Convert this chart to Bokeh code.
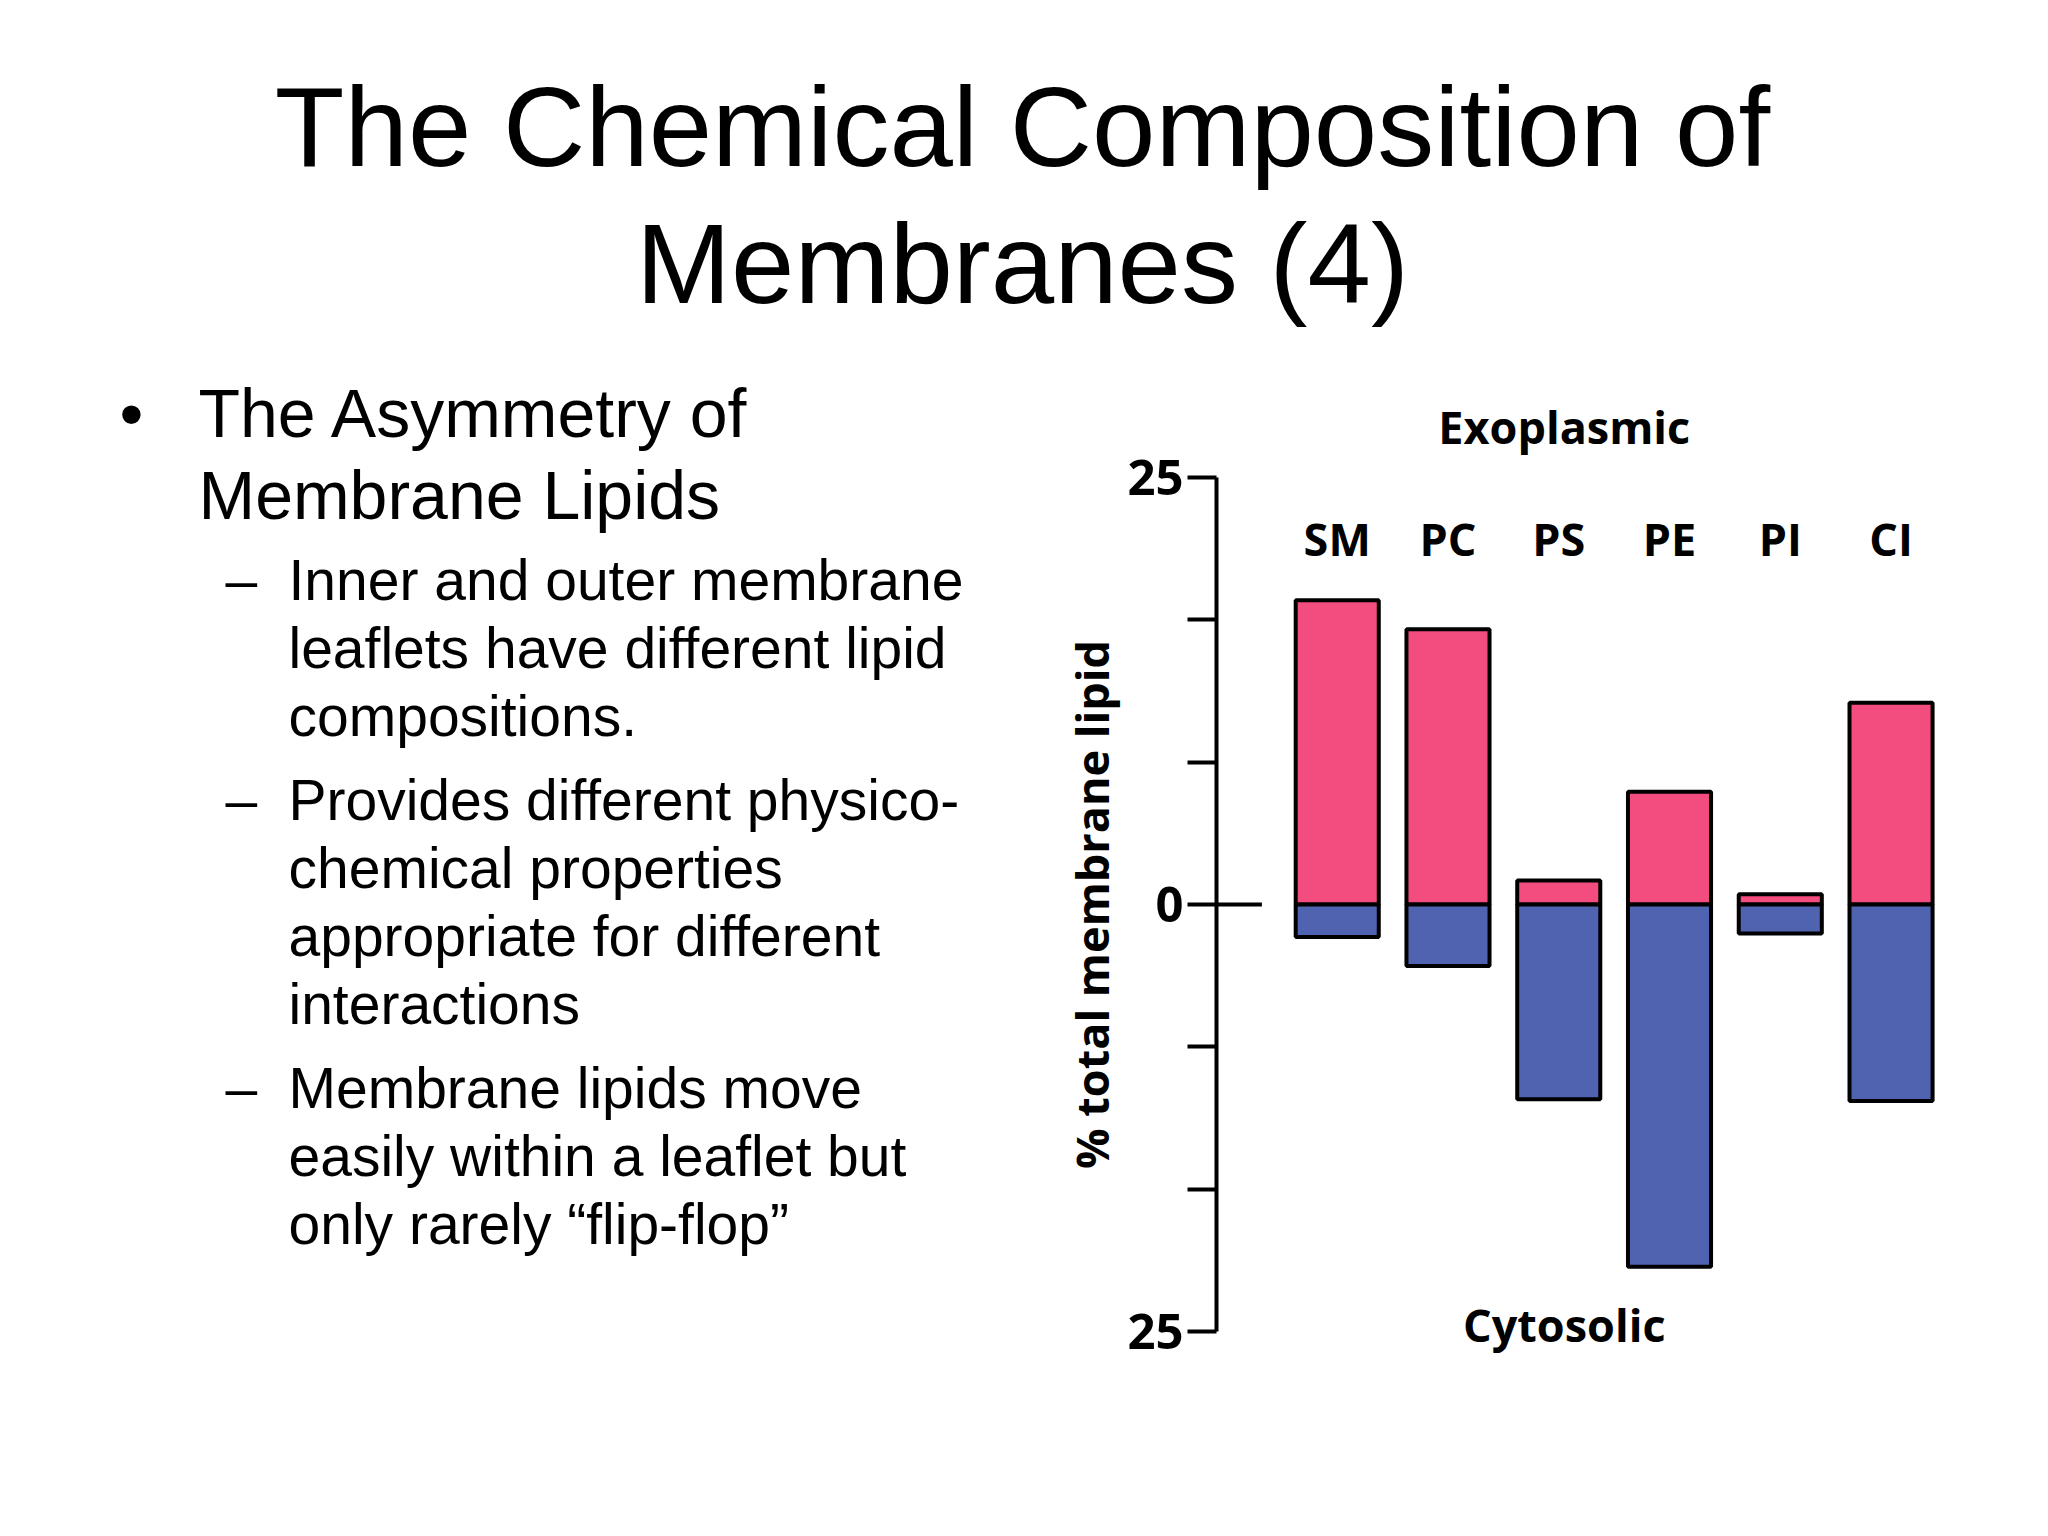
from bokeh.plotting import figure
from bokeh.models import Range1d, LinearAxis, FixedTicker, Label
from bokeh.layouts import column, row
from bokeh.embed import file_html
from bokeh.resources import INLINE
from bokeh.core.properties import value

# ---------------- data ----------------
categories = ["SM", "PC", "PS", "PE", "PI", "CI"]
exoplasmic = [17.8, 16.1, 1.4, 6.6, 0.6, 11.8]
cytosolic = [1.9, 3.6, 11.4, 21.2, 1.7, 11.5]
y_major_ticks = [-25, 0, 25]
y_minor_ticks = [-50 / 3, -25 / 3, 25 / 3, 50 / 3]
y_label_overrides = {-25: "25"}

title_lines = ["The Chemical Composition of", "Membranes (4)"]
bullet_lines = ["The Asymmetry of", "Membrane Lipids"]
sub_bullets = [
    ["Inner and outer membrane", "leaflets have different lipid", "compositions."],
    ["Provides different physico-", "chemical properties",
     "appropriate for different", "interactions"],
    ["Membrane lipids move", "easily within a leaflet but",
     "only rarely \u201cflip-flop\u201d"],
]

PINK = "#F24D7E"
BLUE = "#4F63B1"
ARIAL = "Liberation Sans"
BOLDF = "Open Sans"

# page geometry (page pixels; the canvas starts at 8,8)
W = 2032
TITLE_H = 340
BODY_H = 1180
TEXT_W = 1000
CHART_W = W - TEXT_W
BODY_TOP = 8 + TITLE_H          # 348
BORDER_T, BORDER_B = 0, 52       # frame of the body figures: 348 .. 1476
Y_HALF = 33.0                    # chart y range is symmetric around 0


def blank(width, height, xr, yr, bt=0, bb=0):
    f = figure(width=width, height=height, x_range=Range1d(*xr),
               y_range=Range1d(*yr), output_backend="svg",
               toolbar_location=None, x_axis_location=None, y_axis_location=None,
               min_border_left=0, min_border_right=0,
               min_border_top=bt, min_border_bottom=bb)
    f.outline_line_color = None
    f.xgrid.grid_line_color = None
    f.ygrid.grid_line_color = None
    f.background_fill_color = "white"
    f.border_fill_color = "white"
    return f


# ---------------- title ----------------
tf = blank(W, TITLE_H, (8, 8 + W), (BODY_TOP, 8))
tf.text(x=[1030, 1030], y=[134, 271], text=title_lines,
        text_font=value(ARIAL), text_font_size="114px",
        text_align="center", text_baseline="alphabetic", text_color="black")

# ---------------- bullet text ----------------
frame_top = BODY_TOP + BORDER_T
frame_bot = BODY_TOP + BODY_H - BORDER_B
bf = blank(TEXT_W, BODY_H, (8, 8 + TEXT_W), (frame_bot, frame_top), BORDER_T, BORDER_B)
MAIN_LH, SUB_LH, GAP = 82, 68, 84
MAIN_Y0 = 420
bx, by, bt = [], [], []
y = MAIN_Y0
for line in bullet_lines:
    bx.append(206); by.append(y); bt.append(line)
    y += MAIN_LH
y = y - MAIN_LH + 85
bf.text(x=[127], y=[MAIN_Y0], text=["\u2022"], text_font=value(ARIAL),
        text_font_size="68px", text_baseline="alphabetic")
bf.text(x=bx, y=by, text=bt, text_font=value(ARIAL), text_font_size="68px",
        text_baseline="alphabetic", text_color="black")

sx, sy, st, dy = [], [], [], []
for para in sub_bullets:
    dy.append(y)
    for line in para:
        sx.append(296); sy.append(y); st.append(line)
        y += SUB_LH
    y = y - SUB_LH + GAP
bf.text(x=[233] * len(dy), y=dy, text=["\u2013"] * len(dy), text_font=value(ARIAL),
        text_font_size="57px", text_baseline="alphabetic", text_color="black")
bf.text(x=sx, y=sy, text=st, text_font=value(ARIAL), text_font_size="57px",
        text_baseline="alphabetic", text_color="black")

# ---------------- chart ----------------
xs = list(range(len(categories)))
neg_cyto = [-v for v in cytosolic]
cf = figure(width=CHART_W, height=BODY_H, x_range=Range1d(-1.09, 5.6),
            y_range=Range1d(-Y_HALF, Y_HALF), output_backend="svg",
            toolbar_location=None, x_axis_location=None, y_axis_location=None,
            min_border_left=216, min_border_right=75,
            min_border_top=BORDER_T, min_border_bottom=BORDER_B)
cf.outline_line_color = None
cf.xgrid.grid_line_color = None
cf.ygrid.grid_line_color = None
cf.background_fill_color = "white"
cf.border_fill_color = "white"

cf.vbar(x=xs, bottom=0, top=exoplasmic, width=0.75, fill_color=PINK,
        line_color="black", line_width=4)
cf.vbar(x=xs, bottom=neg_cyto, top=0, width=0.75, fill_color=BLUE,
        line_color="black", line_width=4)

# zero tick extending into the plot
cf.segment(x0=[cf.x_range.start], x1=[cf.x_range.start + 0.41], y0=[0], y1=[0],
           line_color="black", line_width=4)

cf.text(x=xs, y=[21.4] * len(xs), text=categories, text_font=value(BOLDF),
        text_font_style="bold", text_font_size="45px", text_align="center",
        text_baseline="alphabetic", text_color="black")

cf.add_layout(Label(x=2.05, y=27.95, text="Exoplasmic", text_align="center",
                    text_baseline="alphabetic", text_font=BOLDF, text_color="black",
                    text_font_style="bold", text_font_size="45px"))
cf.add_layout(Label(x=2.05, y=-24.55, text="Cytosolic", text_align="center",
                    text_baseline="alphabetic", text_font=BOLDF, text_color="black",
                    text_font_style="bold", text_font_size="45px"))

yax = LinearAxis(
    ticker=FixedTicker(ticks=y_major_ticks, minor_ticks=y_minor_ticks),
    bounds=(-25, 25),
    major_label_overrides=y_label_overrides,
    axis_line_width=4, axis_line_color="black",
    major_tick_line_width=4, minor_tick_line_width=4,
    major_tick_in=0, major_tick_out=29, minor_tick_in=0, minor_tick_out=29,
    major_label_text_font=BOLDF, major_label_text_font_style="bold",
    major_label_text_font_size="49px", major_label_standoff=4,
    major_label_text_color="black",
    axis_label="% total membrane lipid", axis_label_text_font=BOLDF,
    axis_label_text_font_style="bold", axis_label_text_font_size="45px",
    axis_label_standoff=2, axis_label_text_color="black",
)
cf.add_layout(yax, "left")

layout = column(tf, row(bf, cf))

open("out.html", "w").write(file_html(layout, INLINE))
